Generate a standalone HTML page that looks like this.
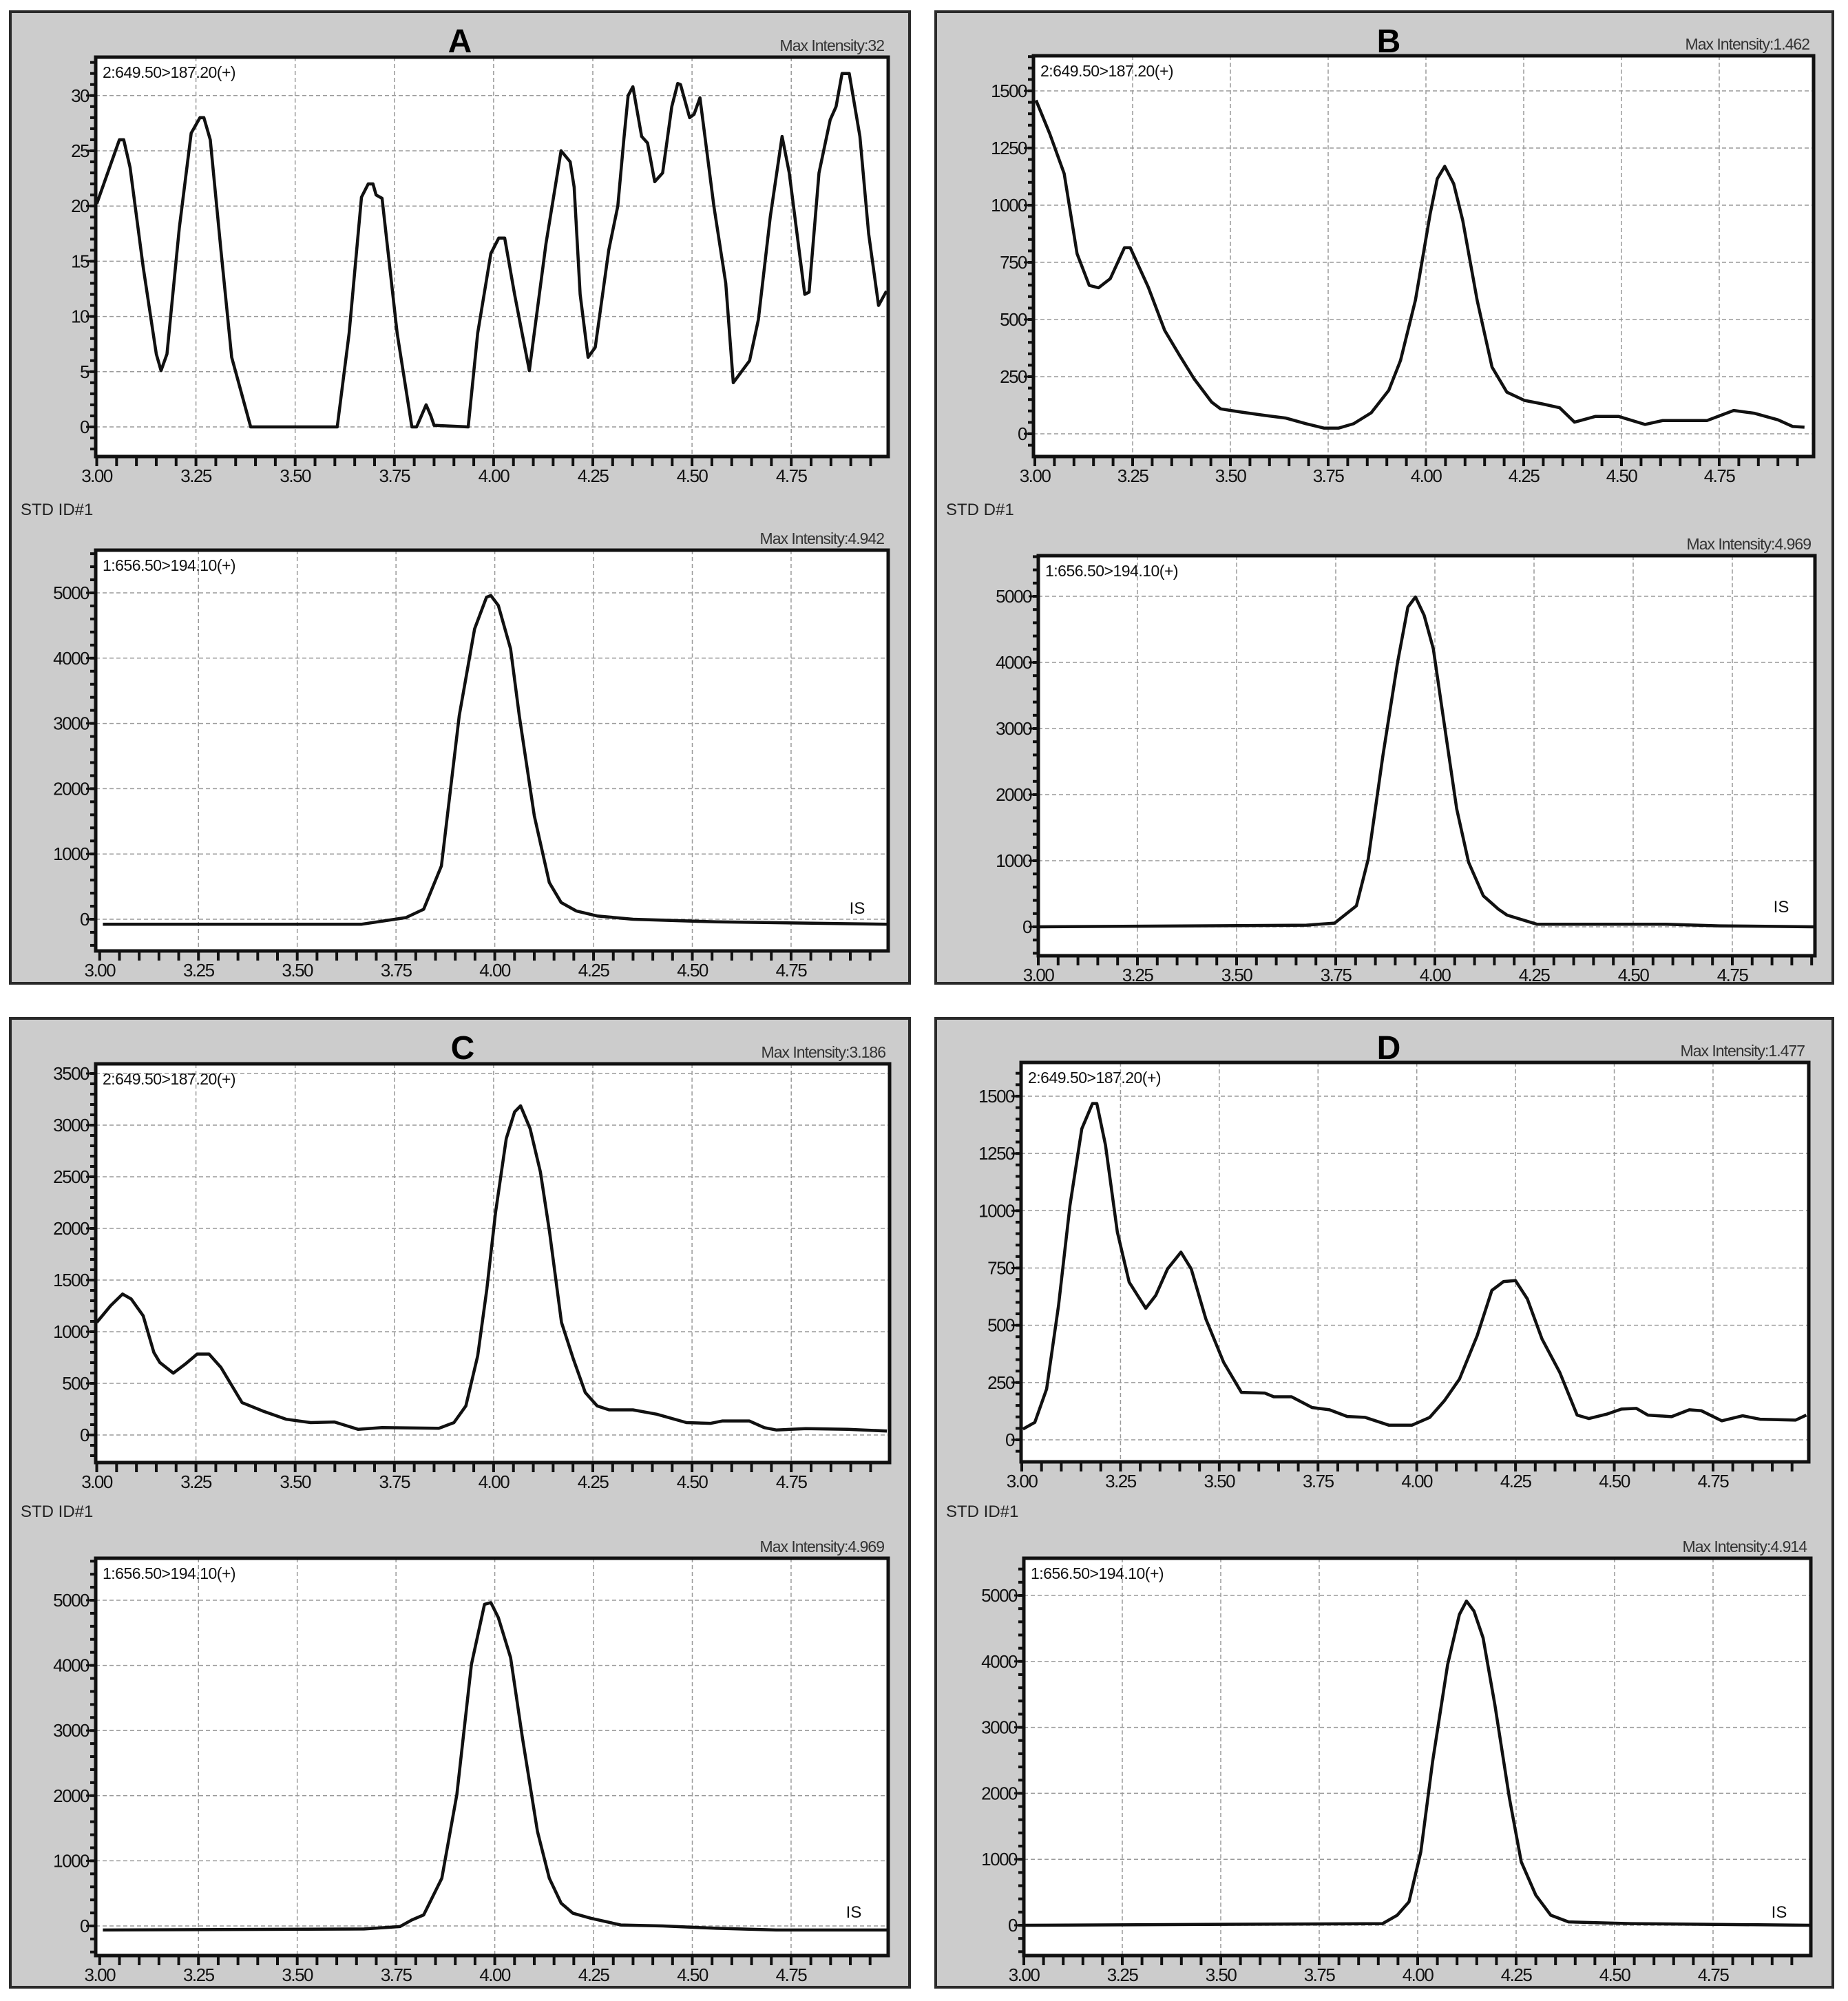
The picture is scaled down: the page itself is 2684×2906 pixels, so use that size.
<!DOCTYPE html>
<html><head><meta charset="utf-8">
<style>
html,body{margin:0;padding:0;background:#fff;}
svg{display:block;}
text{font-family:"Liberation Sans",sans-serif;}
</style></head>
<body>
<svg id="fig" width="2684" height="2906" viewBox="0 0 2684 2906" xmlns="http://www.w3.org/2000/svg">
  <rect x="0" y="0" width="2684" height="2906" fill="#ffffff"/>
  <rect x="15" y="17" width="1306" height="1411" fill="#cccccc" stroke="#2a2a2a" stroke-width="4"/>
  <rect x="1359" y="17" width="1303" height="1411" fill="#cccccc" stroke="#2a2a2a" stroke-width="4"/>
  <rect x="15" y="1479" width="1306" height="1407" fill="#cccccc" stroke="#2a2a2a" stroke-width="4"/>
  <rect x="1359" y="1479" width="1303" height="1407" fill="#cccccc" stroke="#2a2a2a" stroke-width="4"/>
  <text x="668" y="76" font-size="48" font-weight="bold" text-anchor="middle">A</text>
  <text x="2017" y="76" font-size="48" font-weight="bold" text-anchor="middle">B</text>
  <text x="672" y="1538" font-size="48" font-weight="bold" text-anchor="middle">C</text>
  <text x="2017" y="1538" font-size="48" font-weight="bold" text-anchor="middle">D</text>
  <text x="30" y="748" font-size="24" fill="#222">STD ID#1</text>
  <text x="1374" y="748" font-size="24" fill="#222">STD D#1</text>
  <text x="30" y="2203" font-size="24" fill="#222">STD ID#1</text>
  <text x="1374" y="2203" font-size="24" fill="#222">STD ID#1</text>
</svg>
<script>
// ---- Data (retention time in min, intensity) ----
const xTickLabels = ["3.00","3.25","3.50","3.75","4.00","4.25","4.50","4.75"];
const yTicksA = [0,5,10,15,20,25,30];
const yTicks5000 = [0,1000,2000,3000,4000,5000];
const yTicks1500 = [0,250,500,750,1000,1250,1500];
const yTicks3500 = [0,500,1000,1500,2000,2500,3000,3500];

const aTopT = [3.00,3.057,3.068,3.084,3.117,3.15,3.162,3.177,3.208,3.238,3.26,3.27,3.286,3.313,3.34,3.388,3.606,3.636,3.667,3.684,3.696,3.704,3.719,3.757,3.794,3.806,3.83,3.842,3.85,3.936,3.96,3.993,4.013,4.028,4.053,4.09,4.132,4.17,4.193,4.203,4.218,4.238,4.256,4.29,4.313,4.328,4.339,4.351,4.373,4.388,4.406,4.426,4.449,4.464,4.471,4.494,4.505,4.52,4.555,4.585,4.604,4.645,4.667,4.697,4.727,4.745,4.784,4.795,4.82,4.848,4.863,4.878,4.896,4.923,4.945,4.97,4.99];
const aTopV = [20.2,26,26,23.5,14.5,6.6,5.1,6.6,18,26.6,28,28,26,16,6.3,0,0,8.5,20.8,22,22,21,20.7,8.5,0,0,2,1,0.15,0,8.5,15.7,17.1,17.1,12,5.1,16.6,25,24,21.7,12,6.3,7.2,16,20,26,30,30.8,26.3,25.7,22.2,23,29,31.1,31,28,28.3,29.8,20,13,4,6,9.7,19,26.3,23,12,12.2,23,27.8,29,32,32,26.3,17.5,11,12.3];

const aBotT = [3.008,3.662,3.775,3.82,3.865,3.91,3.949,3.979,3.99,4.009,4.04,4.062,4.1,4.138,4.168,4.206,4.259,4.35,4.561,4.995];
const aBotV = [-77,-77,25,153,818,3118,4448,4934,4959,4806,4141,3118,1585,562,256,128,51,0,-40,-77];

const bTopT = [3.003,3.038,3.075,3.108,3.139,3.163,3.193,3.229,3.244,3.29,3.332,3.37,3.407,3.452,3.475,3.528,3.589,3.641,3.694,3.739,3.777,3.815,3.86,3.905,3.935,3.973,4.011,4.029,4.048,4.071,4.094,4.131,4.169,4.207,4.252,4.297,4.342,4.38,4.433,4.493,4.56,4.606,4.719,4.787,4.839,4.9,4.938,4.968];
const bTopV = [1459,1313,1138,788,649,639,679,814,814,642,452,343,241,139,109,95,80,69,44,25,25,44,92,190,321,584,963,1116,1170,1094,934,584,292,182,146,131,114,51,76,76,41,58,58,102,90,61,32,29];

const bBotT = [3.003,3.676,3.747,3.802,3.832,3.869,3.906,3.932,3.951,3.973,3.996,4.018,4.055,4.085,4.122,4.16,4.182,4.257,4.583,4.717,4.955];
const bBotV = [0,25,56,318,1025,2591,4005,4838,4990,4712,4207,3298,1783,975,470,268,177,40,40,15,0];

const cTopT = [3.0,3.035,3.065,3.087,3.117,3.144,3.159,3.193,3.223,3.253,3.283,3.313,3.366,3.418,3.478,3.539,3.599,3.659,3.719,3.862,3.9,3.93,3.96,3.983,4.005,4.032,4.053,4.068,4.092,4.118,4.141,4.171,4.201,4.231,4.261,4.291,4.351,4.411,4.486,4.547,4.577,4.644,4.682,4.712,4.787,4.892,4.991];
const cTopV = [1090,1252,1365,1317,1155,799,702,599,686,783,783,654,314,233,152,120,126,55,71,65,120,281,767,1414,2158,2870,3128,3187,2967,2546,1964,1090,734,411,281,243,243,201,120,113,136,136,71,49,61,55,39];

const cBotT = [3.008,3.669,3.76,3.79,3.82,3.866,3.904,3.941,3.974,3.99,4.009,4.04,4.07,4.108,4.138,4.168,4.198,4.243,4.319,4.425,4.561,4.712,4.995];
const cBotV = [-62,-46,-10,92,169,733,2015,4015,4938,4964,4733,4118,2887,1451,733,349,195,118,15,0,-36,-62,-62];

const dTopT = [3.003,3.033,3.063,3.093,3.122,3.152,3.179,3.19,3.212,3.242,3.272,3.314,3.339,3.369,3.403,3.429,3.466,3.511,3.556,3.615,3.638,3.683,3.735,3.779,3.824,3.869,3.929,3.988,4.033,4.07,4.108,4.153,4.19,4.22,4.25,4.28,4.317,4.362,4.406,4.436,4.481,4.518,4.556,4.585,4.645,4.69,4.72,4.772,4.825,4.869,4.959,4.986];
const dTopV = [47,76,222,586,1023,1358,1468,1468,1286,907,688,574,630,746,819,746,528,338,207,204,188,188,141,131,102,98,64,64,98,171,265,455,652,691,695,615,440,294,108,93,112,134,137,108,101,131,127,83,105,90,86,108];

const dBotT = [3.004,3.911,3.948,3.978,4.008,4.038,4.076,4.106,4.124,4.143,4.166,4.196,4.233,4.263,4.3,4.338,4.383,4.54,4.997];
const dBotV = [0,25,152,355,1114,2482,3951,4711,4914,4762,4357,3343,1925,962,456,152,51,25,0];

// ---- Layout ----
const NS = "http://www.w3.org/2000/svg";
const fig = document.getElementById('fig');
function mk(tag, attrs, parent){
  const e = document.createElementNS(NS, tag);
  for (const k in attrs) e.setAttribute(k, attrs[k]);
  (parent||fig).appendChild(e);
  return e;
}

function drawChart(cfg, tArr, vArr, yTicks){
  const g = mk('g', {});
  
  
  const xS = t => cfg.x0 + (t - 3) * cfg.pxX;
  const yS = v => cfg.y0 - v * cfg.pxY;
  // plot background
  const bg = mk('rect', {x:cfg.l, y:cfg.t, width:cfg.r-cfg.l, height:cfg.b-cfg.t, fill:'#ffffff'}, g);
  
  
  // grid
  xTickLabels.forEach((lab, i) => {
    const x = xS(3 + i*0.25);
    if (i > 0) {
      const gl = mk('line', {x1:x, y1:cfg.t, x2:x, y2:cfg.b, stroke:'#9a9a9a', 'stroke-width':1.5, 'stroke-dasharray':'6,4'}, g);
      
      
    }
  });
  yTicks.forEach(v => {
    const y = yS(v);
    const gl = mk('line', {x1:cfg.l, y1:y, x2:cfg.r, y2:y, stroke:'#9a9a9a', 'stroke-width':1.5, 'stroke-dasharray':'6,4'}, g);
    
    
  });
  // x ticks (minor every 0.05)
  for (let k = 0; k <= 39; k++) {
    const x = xS(3 + k*0.05);
    if (x > cfg.r - 2) break;
    const tk = mk('line', {x1:x, y1:cfg.b, x2:x, y2:cfg.b+14, stroke:'#111', 'stroke-width':4}, g);
    
    
  }
  xTickLabels.forEach((lab, i) => {
    const tx = mk('text', {x:xS(3+i*0.25), y:cfg.b+37, 'font-size':26, 'text-anchor':'middle', 'letter-spacing':'-1.5', fill:'#111'}, g);
    tx.textContent = lab;
    
    
  });
  // y minor ticks
  const step = (yTicks[1]-yTicks[0]) / cfg.minorDiv;
  for (let v = Math.ceil((cfg.y0-cfg.b)/cfg.pxY/step)*step; yS(v) >= cfg.t; v += step) {
    const y = yS(v);
    if (y > cfg.b) continue;
    const tk = mk('line', {x1:cfg.l-8, y1:y, x2:cfg.l, y2:y, stroke:'#111', 'stroke-width':4}, g);
    
    
  }
  yTicks.forEach(v => {
    const y = yS(v);
    const tk = mk('line', {x1:cfg.l-14, y1:y, x2:cfg.l, y2:y, stroke:'#111', 'stroke-width':3}, g);
    
    
    const tx = mk('text', {x:cfg.l-10, y:y+9, 'font-size':26, 'text-anchor':'end', 'letter-spacing':'-1.5', fill:'#111'}, g);
    tx.textContent = String(v);
    
    
  });
  // trace
  let d = '';
  tArr.forEach((t, i) => { d += (i ? 'L' : 'M') + xS(t).toFixed(1) + ',' + yS(vArr[i]).toFixed(1); });
  const p = mk('path', {d:d, fill:'none', stroke:'#111', 'stroke-width':4.5, 'stroke-linejoin':'round'}, g);
  
  
  // border
  const br = mk('rect', {x:cfg.l, y:cfg.t, width:cfg.r-cfg.l, height:cfg.b-cfg.t, fill:'none', stroke:'#111', 'stroke-width':5}, g);
  
  
  // labels
  const tl = mk('text', {x:cfg.l+10, y:cfg.t+30, 'font-size':23, 'letter-spacing':'-0.5', fill:'#111'}, g);
  tl.textContent = cfg.trace;
  
  
  const mi = mk('text', {x:cfg.r-6, y:cfg.t-9, 'font-size':23, 'text-anchor':'end', 'letter-spacing':'-1', fill:'#333'}, g);
  mi.textContent = cfg.maxInt;
  
  
  if (cfg.is) {
    const is = mk('text', {x:cfg.is[0], y:cfg.is[1], 'font-size':24, 'text-anchor':'middle', fill:'#111'}, g);
    is.textContent = 'IS';
    
    
  }
}

drawChart({name:'panel-a-analyte', l:139, t:83, r:1290, b:663, x0:140.5, pxX:576.4, y0:620, pxY:16.04, minorDiv:5, trace:'2:649.50>187.20(+)', maxInt:'Max Intensity:32'}, aTopT, aTopV, yTicksA);
drawChart({name:'panel-a-is', l:139, t:799, r:1290, b:1381, x0:144.8, pxX:573.8, y0:1335, pxY:0.0948, minorDiv:5, trace:'1:656.50>194.10(+)', maxInt:'Max Intensity:4.942', is:[1245,1327]}, aBotT, aBotV, yTicks5000);
drawChart({name:'panel-b-analyte', l:1501, t:81, r:2634, b:663, x0:1503, pxX:568, y0:630, pxY:0.332, minorDiv:5, trace:'2:649.50>187.20(+)', maxInt:'Max Intensity:1.462'}, bTopT, bTopV, yTicks1500);
drawChart({name:'panel-b-is', l:1508, t:807, r:2636, b:1388, x0:1508, pxX:576, y0:1346, pxY:0.096, minorDiv:5, trace:'1:656.50>194.10(+)', maxInt:'Max Intensity:4.969', is:[2587,1325]}, bBotT, bBotV, yTicks5000);
drawChart({name:'panel-c-analyte', l:139, t:1545, r:1292, b:2124, x0:140.5, pxX:576.4, y0:2084, pxY:0.15, minorDiv:5, trace:'2:649.50>187.20(+)', maxInt:'Max Intensity:3.186'}, cTopT, cTopV, yTicks3500);
drawChart({name:'panel-c-is', l:139, t:2263, r:1290, b:2840, x0:144.8, pxX:573.8, y0:2797, pxY:0.0946, minorDiv:5, trace:'1:656.50>194.10(+)', maxInt:'Max Intensity:4.969', is:[1240,2785]}, cBotT, cBotV, yTicks5000);
drawChart({name:'panel-d-analyte', l:1483, t:1543, r:2627, b:2123, x0:1484, pxX:573.7, y0:2091, pxY:0.3327, minorDiv:5, trace:'2:649.50>187.20(+)', maxInt:'Max Intensity:1.477'}, dTopT, dTopV, yTicks1500);
drawChart({name:'panel-d-is', l:1487, t:2263, r:2630, b:2840, x0:1487, pxX:572, y0:2796, pxY:0.0958, minorDiv:5, trace:'1:656.50>194.10(+)', maxInt:'Max Intensity:4.914', is:[2584,2785]}, dBotT, dBotV, yTicks5000);
</script>
</body></html>
